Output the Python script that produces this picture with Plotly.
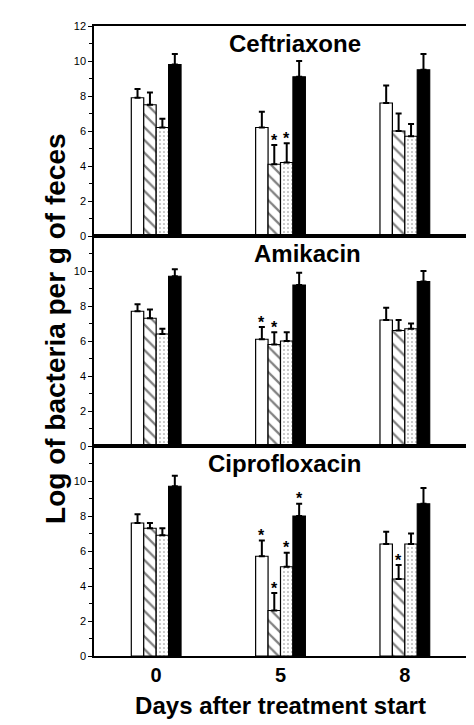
import plotly.graph_objects as go
from plotly.subplots import make_subplots

days = ["0", "5", "8"]
drugs = ["Ceftriaxone", "Amikacin", "Ciprofloxacin"]
groups = ["g1", "g2", "g3", "g4"]

# mean per group, per day, per drug
vals = {
 "Ceftriaxone": [[7.9, 6.2, 7.6], [7.5, 4.1, 6.0], [6.2, 4.2, 5.7], [9.8, 9.1, 9.5]],
 "Amikacin": [[7.7, 6.1, 7.2], [7.3, 5.8, 6.6], [6.4, 6.0, 6.7], [9.7, 9.2, 9.4]],
 "Ciprofloxacin": [[7.6, 5.7, 6.4], [7.3, 2.6, 4.4], [6.9, 5.1, 6.4], [9.7, 8.0, 8.7]],
}
errs = {
 "Ceftriaxone": [[0.5, 0.9, 1.0], [0.7, 1.1, 1.0], [0.5, 1.1, 0.7], [0.6, 0.9, 0.9]],
 "Amikacin": [[0.4, 0.7, 0.7], [0.5, 0.7, 0.6], [0.3, 0.5, 0.3], [0.4, 0.7, 0.6]],
 "Ciprofloxacin": [[0.5, 0.9, 0.7], [0.3, 1.0, 0.8], [0.4, 0.8, 0.6], [0.6, 0.7, 0.9]],
}
stars = {
 "Ceftriaxone": [[0, 0, 0], [0, 1, 0], [0, 1, 0], [0, 0, 0]],
 "Amikacin": [[0, 1, 0], [0, 1, 0], [0, 0, 0], [0, 0, 0]],
 "Ciprofloxacin": [[0, 1, 0], [0, 1, 1], [0, 1, 0], [0, 1, 0]],
}

colors = ["white", "white", "white", "black"]
shapes = ["", "\\", ".", ""]
F = "Liberation Sans"

fig = make_subplots(rows=3, cols=1, vertical_spacing=0, shared_xaxes=True)
for r, d in enumerate(drugs, 1):
 for g in range(4):
  fig.add_trace(go.Bar(
   x=days, y=vals[d][g], offsetgroup=str(g),
   marker=dict(color=colors[g], line=dict(color="black", width=1.2),
               pattern=dict(shape=shapes[g], fgcolor="black", size=9 if g == 1 else 4,
                            solidity=0.25 if g == 1 else 0.12)),
   error_y=dict(type="data", symmetric=False, array=errs[d][g], arrayminus=[0, 0, 0],
                color="black", thickness=2, width=3),
   showlegend=False), row=r, col=1)
 fig.add_annotation(text="<b>%s</b>" % d, xref="x%s domain" % ("" if r == 1 else r),
                    yref="y%s domain" % ("" if r == 1 else r), x=0.72, y=0.99,
                    showarrow=False, font=dict(size=24, family=F, color="black"))
 fig.update_yaxes(range=[0, 12], tickvals=[0, 2, 4, 6, 8, 10, 12] if r == 1 else [0, 2, 4, 6, 8, 10],
                  row=r, col=1)

offs = [-1.5, -0.5, 0.5, 1.5]
for r, d in enumerate(drugs, 1):
 for g in range(4):
  for i in range(3):
   if stars[d][g][i]:
    fig.add_annotation(x=i + offs[g] * 0.1, y=vals[d][g][i] + errs[d][g][i], text="<b>*</b>",
                       xref="x%s" % ("" if r == 1 else r), yref="y%s" % ("" if r == 1 else r),
                       showarrow=False, yshift=5, font=dict(size=16, family=F, color="black"))

fig.update_xaxes(type="category", showline=True, mirror=True, linecolor="black", linewidth=1.5,
                 ticks="", tickfont=dict(size=20, family=F, color="black"))
fig.update_yaxes(showline=True, mirror=True, linecolor="black", linewidth=1.5, showgrid=False,
                 ticks="outside", ticklen=4, tickcolor="black", zeroline=False,
                 tickfont=dict(size=11, family=F, color="black"),
                 minor=dict(dtick=1, ticks="outside", ticklen=3, tickcolor="black"))
fig.update_xaxes(tickprefix="<b>", ticksuffix="</b>", row=3, col=1)
fig.update_xaxes(title=dict(text="<b>Days after treatment start</b>", standoff=12,
                            font=dict(size=24, family=F, color="black")), row=3, col=1)
fig.add_annotation(text="<b>Log of bacteria per g of feces</b>", xref="paper", yref="paper",
                   x=-0.15, y=0.52, textangle=-90, showarrow=False,
                   font=dict(size=28, family=F, color="black"))
fig.update_layout(width=474, height=725, margin=dict(l=86, r=15, t=15, b=77),
                  plot_bgcolor="white", paper_bgcolor="white", barmode="group",
                  bargap=0.6, bargroupgap=0)
fig.write_html("out.html")
